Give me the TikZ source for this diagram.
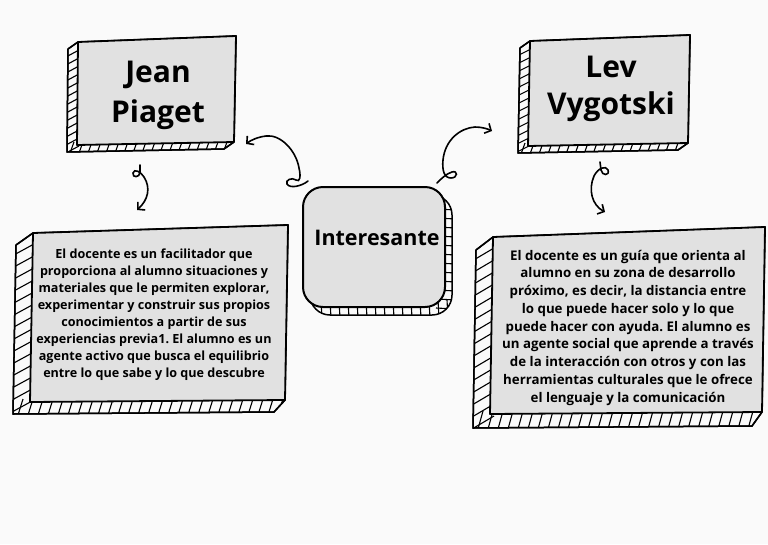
\documentclass[tikz,border=0pt]{standalone}
\usepackage{fontspec}
\setmainfont{Open Sans}
\usetikzlibrary{arrows.meta}
\definecolor{bgc}{RGB}{250,250,250}
\definecolor{boxc}{RGB}{225,225,225}
\tikzset{
  face/.style={fill=boxc, draw=black, line width=1.8pt, line join=round},
  side/.style={fill=bgc, draw=black, line width=1.5pt, line join=round},
  hatch/.style={draw=black, line width=1.1pt},
  link/.style={draw=black, line width=1.6pt, line cap=round,
    -{Straight Barb[length=5pt,width=11pt,line width=1.6pt]}},
  title/.style={font=\fontsize{30}{37}\selectfont\bfseries, align=center, inner sep=0pt},
  bodyL/.style={font=\fontsize{12.6}{17}\selectfont\bfseries\frenchspacing, align=center, inner sep=0pt},
  bodyR/.style={font=\fontsize{13.3}{17.75}\selectfont\bfseries\frenchspacing, align=center, inner sep=0pt},
}
\begin{document}
\begin{tikzpicture}[x=1pt,y=-1pt]
\path[fill=bgc] (0,0) rectangle (768,544);
\useasboundingbox (0,0) rectangle (768,544);

% ---------- Jean Piaget box ----------
\path[side] (78,42) -- (68,49) -- (67,152) -- (224,149) -- (234,142) -- (236,36) -- cycle;
\begin{scope}
  \clip (78,42) -- (68,49) -- (67,152) -- (224,149) -- (234,142) -- (236,36) -- cycle;
  \foreach \y in {50,58,...,146} \draw[hatch] (66,\y+7) -- (79,\y);
  \foreach \x in {70,79,...,232} \draw[hatch] (\x,153) -- (\x+4,142);
\end{scope}
\path[side,fill=none] (78,42) -- (68,49) -- (67,152) -- (224,149) -- (234,142);
\path[face] (78,42) -- (236,36) -- (234,142) -- (77,145) -- cycle;
\node[title, font=\fontsize{30}{40}\selectfont\bfseries] (piaget) at (158,95) {Jean\\Piaget};

% ---------- Lev Vygotski box ----------
\path[side] (530,41) -- (520,48) -- (518,153) -- (678,150) -- (688,143) -- (690,35) -- cycle;
\begin{scope}
  \clip (530,41) -- (520,48) -- (518,153) -- (678,150) -- (688,143) -- (690,35) -- cycle;
  \foreach \y in {49,57,...,146} \draw[hatch] (517,\y+7) -- (531,\y);
  \foreach \x in {521,530,...,686} \draw[hatch] (\x,154) -- (\x+4,143);
\end{scope}
\path[side,fill=none] (530,41) -- (520,48) -- (518,153) -- (678,150) -- (688,143);
\path[face] (530,41) -- (690,35) -- (688,143) -- (528,146) -- cycle;
\node[title] (vygotski) at (611,89) {Lev\\Vygotski};

% ---------- Interesante box ----------
\path[side, rounded corners=20pt] (310,195) rectangle (452,315);
\begin{scope}
  \clip[rounded corners=20pt] (310,195) rectangle (452,315);
  \foreach \x in {312,321,...,452} \draw[hatch] (\x,300) -- (\x+1,318);
  \foreach \y in {200,209,...,312} \draw[hatch] (436,\y) -- (456,\y+1);
\end{scope}
\path[face, line width=2pt, rounded corners=20pt] (303,187) rectangle (445,307);
\node[font=\fontsize{21.5}{26}\selectfont\bfseries, inner sep=0pt, anchor=base] (inter) at (377,245) {Interesante};

% ---------- Piaget text box ----------
\path[side] (33,233) -- (16,245) -- (13,414) -- (274,412) -- (285,400) -- (288,225) -- cycle;
\begin{scope}
  \clip (33,233) -- (16,245) -- (13,414) -- (274,412) -- (285,400) -- (288,225) -- cycle;
  \foreach \y in {244,256,...,404} \draw[hatch] (12,\y+12) -- (34,\y);
  \foreach \x in {18,28,...,282} \draw[hatch] (\x,415) -- (\x+5,399);
\end{scope}
\path[side,fill=none] (33,233) -- (16,245) -- (13,414) -- (274,412) -- (285,400);
\path[face] (33,233) -- (288,225) -- (285,400) -- (30,402) -- cycle;
\node[bodyL] (ptext) at (154,314.2) {El docente es un facilitador que\\
proporciona al alumno situaciones y\\
materiales que le permiten explorar,\\
experimentar y construir sus propios\\
conocimientos a partir de sus\\
experiencias previa1. El alumno es un\\
agente activo que busca el equilibrio\\
entre lo que sabe y lo que descubre};

% ---------- Vygotski text box ----------
\path[side] (493,237) -- (476,250) -- (473,428) -- (752,426) -- (762,412) -- (765,227) -- cycle;
\begin{scope}
  \clip (493,237) -- (476,250) -- (473,428) -- (752,426) -- (762,412) -- (765,227) -- cycle;
  \foreach \y in {248,260,...,420} \draw[hatch] (472,\y+13) -- (494,\y);
  \foreach \x in {478,488,...,760} \draw[hatch] (\x,429) -- (\x+5,411);
\end{scope}
\path[side,fill=none] (493,237) -- (476,250) -- (473,428) -- (752,426) -- (762,412);
\path[face] (493,237) -- (765,227) -- (762,412) -- (490,414) -- cycle;
\node[bodyR] (vtext) at (628,327.5) {El docente es un guía que orienta al\\
alumno en su zona de desarrollo\\
próximo, es decir, la distancia entre\\
lo que puede hacer solo y lo que\\
puede hacer con ayuda. El alumno es\\
un agente social que aprende a través\\
de la interacción con otros y con las\\
herramientas culturales que le ofrece\\
el lenguaje y la comunicación};

% ---------- connectors ----------
\coordinate (iL) at (308,181);
\coordinate (pR) at (246,144);
\coordinate (iR) at (437,183);
\coordinate (vL) at (492,131);
\coordinate (pB) at (140,165);
\coordinate (ptT) at (137,210);
\coordinate (vB) at (600,162);
\coordinate (vtT) at (605,212);

\draw[link] (iL) .. controls (302,186) and (290,189) .. (287,184)
  .. controls (285,180) and (292,177) .. (296,180)
  .. controls (300,183) and (301,176) .. (299,168)
  .. controls (296,150) and (280,134) .. (266,136)
  .. controls (258,137) and (251,140) .. (pR);

\draw[link] (iR) .. controls (442,178) and (446,174) .. (452,172)
  .. controls (458,170) and (458,178) .. (451,178)
  .. controls (444,178) and (442,170) .. (443,160)
  .. controls (445,140) and (460,128) .. (475,127)
  .. controls (482,127) and (488,129) .. (vL);

\draw[link] (pB) -- (140,172) .. controls (140,178) and (132,178) .. (133,173)
  .. controls (134,168) and (141,172) .. (144,177)
  .. controls (151,188) and (148,200) .. (ptT);

\draw[link] (vB) -- (601,170) .. controls (602,176) and (610,176) .. (608,170)
  .. controls (606,165) and (598,168) .. (594,176)
  .. controls (588,190) and (592,205) .. (vtT);
\end{tikzpicture}
\end{document}
